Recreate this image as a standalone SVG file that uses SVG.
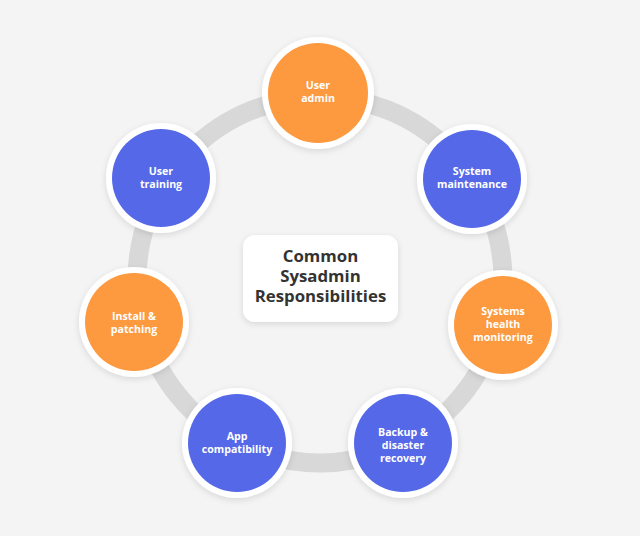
<svg xmlns="http://www.w3.org/2000/svg" width="640" height="536" viewBox="0 0 640 536">
<defs>
<filter id="sh" x="-20%" y="-20%" width="140%" height="140%">
<feDropShadow dx="0" dy="2" stdDeviation="3" flood-color="#000" flood-opacity="0.12"/>
</filter>
<style>
.bg{fill:#f4f4f4}
.ring{fill:none;stroke:#d8d8d8;stroke-width:19}
.halo{fill:#ffffff;filter:url(#sh)}
.or{fill:#fd993f}
.bl{fill:#5468e8}
.lbl{font-family:"Open Sans","Liberation Sans",sans-serif;font-weight:700;font-size:10.6px;fill:#ffffff;text-anchor:middle}
.ttl{font-family:"Open Sans","Liberation Sans",sans-serif;font-weight:700;font-size:16.8px;fill:#333333;text-anchor:middle}
</style>
</defs>
<rect class="bg" x="0" y="0" width="640" height="536"/>
<g id="connectors">
<circle class="ring" cx="320" cy="280" r="183"/>
</g>
<g id="center">
<rect x="243" y="235" width="155" height="87" rx="12" fill="#ffffff" filter="url(#sh)"/>
<text class="ttl" x="320.5" y="262">Common</text>
<text class="ttl" x="320.5" y="282">Sysadmin</text>
<text class="ttl" x="320.5" y="302">Responsibilities</text>
</g>
<g id="user-admin">
<circle class="halo" cx="318" cy="93" r="56"/>
<circle class="or" cx="318" cy="93" r="50"/>
<text class="lbl" x="318" y="89">User</text>
<text class="lbl" x="318" y="102">admin</text>
</g>
<g id="system-maintenance">
<circle class="halo" cx="472" cy="179" r="55"/>
<circle class="bl" cx="472" cy="179" r="49"/>
<text class="lbl" x="472" y="175">System</text>
<text class="lbl" x="472" y="188">maintenance</text>
</g>
<g id="systems-health">
<circle class="halo" cx="503" cy="325" r="55"/>
<circle class="or" cx="503" cy="325" r="49"/>
<text class="lbl" x="503" y="315">Systems</text>
<text class="lbl" x="503" y="328">health</text>
<text class="lbl" x="503" y="341">monitoring</text>
</g>
<g id="backup">
<circle class="halo" cx="403" cy="443" r="55"/>
<circle class="bl" cx="403" cy="443" r="49"/>
<text class="lbl" x="403" y="436">Backup &amp;</text>
<text class="lbl" x="403" y="449">disaster</text>
<text class="lbl" x="403" y="462">recovery</text>
</g>
<g id="app-compat">
<circle class="halo" cx="237" cy="443" r="55"/>
<circle class="bl" cx="237" cy="443" r="49"/>
<text class="lbl" x="237" y="440">App</text>
<text class="lbl" x="237" y="453">compatibility</text>
</g>
<g id="install-patching">
<circle class="halo" cx="134" cy="322" r="55"/>
<circle class="or" cx="134" cy="322" r="49"/>
<text class="lbl" x="134" y="320">Install &amp;</text>
<text class="lbl" x="134" y="333">patching</text>
</g>
<g id="user-training">
<circle class="halo" cx="161" cy="178" r="55"/>
<circle class="bl" cx="161" cy="178" r="49"/>
<text class="lbl" x="161" y="175">User</text>
<text class="lbl" x="161" y="188">training</text>
</g>
</svg>
